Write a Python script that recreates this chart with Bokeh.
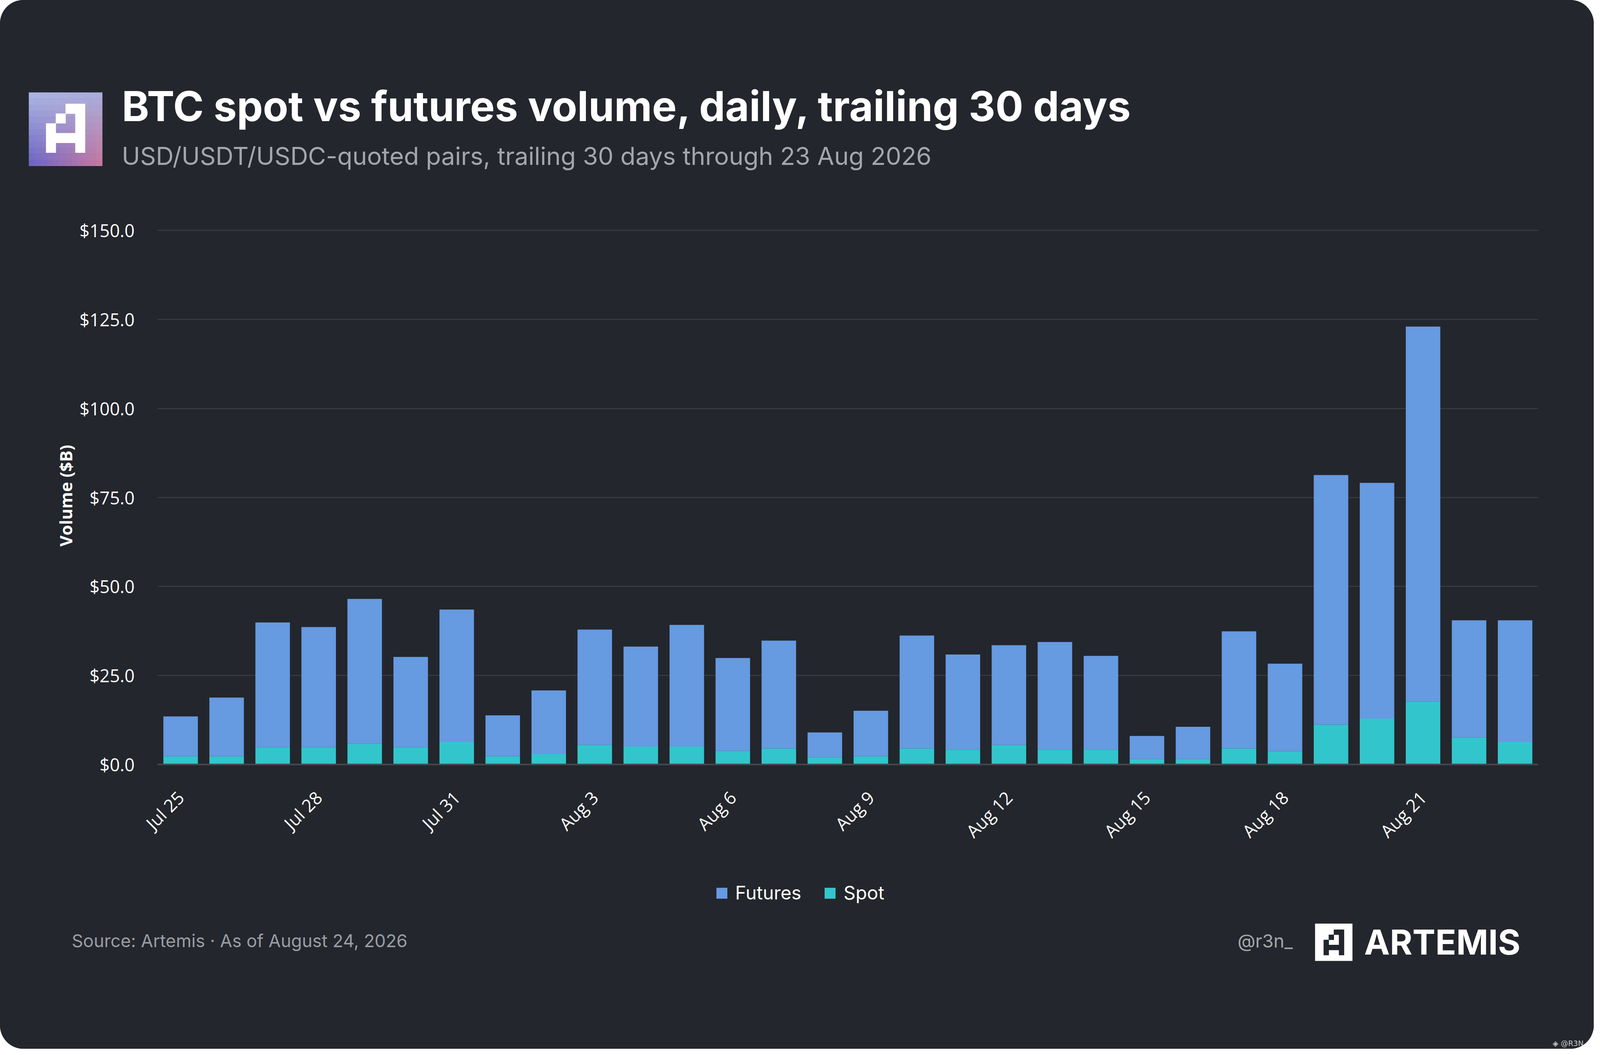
import math
from bokeh.plotting import figure
from bokeh.layouts import column
from bokeh.models import (Range1d, Label, Legend, LegendItem, NumeralTickFormatter,
                          FixedTicker, ColumnDataSource)
from bokeh.embed import file_html
from bokeh.resources import INLINE

# ---------------- data ----------------
dates = ["Jul 25", "Jul 26", "Jul 27", "Jul 28", "Jul 29", "Jul 30", "Jul 31",
         "Aug 1", "Aug 2", "Aug 3", "Aug 4", "Aug 5", "Aug 6", "Aug 7", "Aug 8",
         "Aug 9", "Aug 10", "Aug 11", "Aug 12", "Aug 13", "Aug 14", "Aug 15",
         "Aug 16", "Aug 17", "Aug 18", "Aug 19", "Aug 20", "Aug 21", "Aug 22", "Aug 23"]
spot = [2.3, 2.3, 4.8, 4.8, 5.8, 4.8, 6.3, 2.3, 2.9, 5.5, 5.0, 5.0, 3.8, 4.5, 2.0,
        2.3, 4.5, 4.2, 5.5, 4.2, 4.2, 1.5, 1.5, 4.5, 3.7, 11.2, 12.9, 17.7, 7.6, 6.3]
futures = [11.2, 16.5, 35.1, 33.8, 40.7, 25.4, 37.2, 11.5, 17.9, 32.4, 28.1, 34.2,
           26.1, 30.3, 7.0, 12.8, 31.7, 26.7, 28.0, 30.2, 26.3, 6.5, 9.1, 32.9, 24.6,
           70.1, 66.2, 105.3, 32.9, 34.2]
tick_positions = [0, 3, 6, 9, 12, 15, 18, 21, 24, 27]
tick_labels = ["Jul 25", "Jul 28", "Jul 31", "Aug 3", "Aug 6", "Aug 9", "Aug 12",
               "Aug 15", "Aug 18", "Aug 21"]
y_ticks = [0, 25, 50, 75, 100, 125, 150]

title_text = "BTC spot vs futures volume, daily, trailing 30 days"
subtitle_text = "USD/USDT/USDC-quoted pairs, trailing 30 days through 23 Aug 2026"
source_text = "Source: Artemis \u00b7 As of August 24, 2026"

# ---------------- style ----------------
BG = "#23262c"
FUT = "#669ae1"
SPOT = "#32c6cc"
GRID = "#363940"
W = 4080                 # browser viewport is 4096 css px wide
SX = W / 4784            # horizontal layout scale
FS = 0.87                # font / shape scale
HH, MH, FH = 480, 1720, 484   # header, main, footer heights
Y_TOP = 151              # a little headroom so the $150 grid line shows


def fpx(v):
    return f"{v:.1f}px"


def deco_fig(h):
    f = figure(width=W, height=h, x_range=Range1d(0, W), y_range=Range1d(h, 0),
               x_axis_type=None, y_axis_type=None, min_border=0,
               toolbar_location=None, output_backend="svg", frame_align=False,
               background_fill_color=BG, background_fill_alpha=0,
               border_fill_color=BG, outline_line_color=None,
               styles={"background-color": BG})
    f.title.visible = False
    return f


def lab(f, text, x, y, size, color, font="Inter", style="normal", align="left"):
    f.add_layout(Label(x=x, y=y, text=text, text_font=font, text_font_size=fpx(size),
                       text_color=color, text_font_style=style, text_align=align,
                       text_baseline="middle"))


def hexmix(c1, c2, t):
    a = [int(c1[i:i + 2], 16) for i in (1, 3, 5)]
    b = [int(c2[i:i + 2], 16) for i in (1, 3, 5)]
    return "#" + "".join(f"{round(x + (y - x) * t):02x}" for x, y in zip(a, b))


A_SHAPE = ["..XX", ".X.X", "X..X", "XXXX", "X..X"]


def draw_a(f, cx, cy, u, color):
    ox, oy = cx - 2 * u, cy - 2.5 * u
    L, R, T, B = [], [], [], []
    for r, row in enumerate(A_SHAPE):
        for c, ch_ in enumerate(row):
            if ch_ == "X":
                L.append(ox + c * u)
                R.append(ox + (c + 1) * u + 0.6)
                T.append(oy + r * u)
                B.append(oy + (r + 1) * u + 0.6)
    f.quad(left=L, right=R, top=T, bottom=B, fill_color=color, line_color=None)


# ---------------- header ----------------
hdr = deco_fig(HH)
side = 216 * FS
lcx, lcy = 196 * SX, 330
N = 12
TLc, TRc, BLc, BRc = "#adb7e2", "#a9aedc", "#6862c5", "#c8779c"
gl, gr, gt, gb, gc = [], [], [], [], []
cell = side / N
for i in range(N):
    for j in range(N):
        tx, ty = (i + 0.5) / N, (j + 0.5) / N
        gl.append(lcx - side / 2 + i * cell)
        gr.append(lcx - side / 2 + (i + 1) * cell + 0.6)
        gt.append(lcy - side / 2 + j * cell)
        gb.append(lcy - side / 2 + (j + 1) * cell + 0.6)
        gc.append(hexmix(hexmix(TLc, TRc, tx), hexmix(BLc, BRc, tx), ty))
hdr.quad(left=gl, right=gr, top=gt, bottom=gb, fill_color=gc, line_color=None)
draw_a(hdr, lcx, lcy - 0.1 * 28.7 * FS, 28.7 * FS, "#ffffff")
lab(hdr, title_text, 365 * SX, 271, 106, "#ffffff", style="bold")
lab(hdr, subtitle_text, 365 * SX, 398, 63, "#a3a6ab")

# ---------------- main chart ----------------
FL, FR = round(472 * SX), round(4616 * SX)
KY = (1956 - 589) / 150
FT, FB = round(589 - (Y_TOP - 150) * KY) - HH, 1956 - HH
p = figure(width=W, height=MH, x_range=Range1d(-0.5, len(dates) - 0.5),
           y_range=Range1d(0, Y_TOP), output_backend="svg", toolbar_location=None,
           min_border_left=FL, min_border_right=W - FR, min_border_top=FT,
           min_border_bottom=MH - FB, background_fill_color=BG,
           background_fill_alpha=0, border_fill_color=BG, outline_line_color=None,
           styles={"background-color": BG})
p.title.visible = False

src = ColumnDataSource(dict(x=list(range(len(dates))), date=dates, Spot=spot, Futures=futures))
rs = p.vbar_stack(["Spot", "Futures"], x="x", width=0.75, source=src,
                  fill_color=[SPOT, FUT], line_color=None)

p.xgrid.grid_line_color = None
p.ygrid.grid_line_color = GRID
p.ygrid.grid_line_width = 3
p.ygrid.ticker = FixedTicker(ticks=y_ticks)

ya = p.yaxis[0]
ya.ticker = FixedTicker(ticks=y_ticks)
ya.formatter = NumeralTickFormatter(format="$0.0")
ya.axis_line_color = None
ya.major_tick_line_color = None
ya.minor_tick_line_color = None
ya.major_label_standoff = 53
ya.major_label_text_font = "Open Sans"
ya.major_label_text_font_size = fpx(52 * FS)
ya.major_label_text_color = "#ffffff"
ya.axis_label = "Volume ($B)"
ya.axis_label_text_font = "Open Sans"
ya.axis_label_text_font_style = "bold"
ya.axis_label_text_font_size = fpx(50 * FS)
ya.axis_label_text_color = "#ffffff"
ya.axis_label_standoff = 2

xa = p.xaxis[0]
xa.ticker = FixedTicker(ticks=tick_positions)
xa.major_label_overrides = {t: l for t, l in zip(tick_positions, tick_labels)}
xa.major_label_orientation = math.pi / 4
xa.axis_line_color = "#45484e"
xa.axis_line_width = 4
xa.major_tick_line_color = None
xa.minor_tick_line_color = None
xa.major_label_standoff = 70
xa.major_label_text_font = "Open Sans"
xa.major_label_text_font_size = fpx(52 * FS)
xa.major_label_text_color = "#ffffff"

# ---------------- footer ----------------
ftr = deco_fig(FH)
leg_f = ftr.vbar(x=[-500], top=[-60], bottom=[-50], width=1, fill_color=FUT, line_color=None)
leg_s = ftr.vbar(x=[-500], top=[-60], bottom=[-50], width=1, fill_color=SPOT, line_color=None)
legend = Legend(items=[LegendItem(label="Futures", renderers=[leg_f]),
                       LegendItem(label="Spot", renderers=[leg_s])],
                orientation="horizontal",
                location=(round(2146 * SX), FH - (2284 - 2200) - 30),
                background_fill_alpha=0, border_line_color=None,
                label_text_font="Inter", label_text_font_size=fpx(55 * FS),
                label_text_color="#ffffff", glyph_width=round(40 * FS),
                glyph_height=round(40 * FS), label_standoff=round(20 * SX),
                spacing=round(66 * SX), padding=0, margin=0)
ftr.add_layout(legend, "center")

fy = 2407 - 2200
lab(ftr, source_text, 215 * SX, fy, 52 * FS, "#9a9da3")
lab(ftr, "@r3n_", 3880 * SX, fy, 54 * FS, "#a3a6ab", align="right")
scx, scy, ss = 4003 * SX, 2411 - 2200, 110 * FS
ftr.quad(left=[scx - ss / 2], right=[scx + ss / 2], top=[scy - ss / 2],
         bottom=[scy + ss / 2], fill_color="#ffffff", line_color=None)
draw_a(ftr, scx, scy, 15 * FS, BG)
lab(ftr, "ARTEMIS", scx + ss / 2 + 30, 2410 - 2200, 88, "#ffffff", style="bold")
lab(ftr, "\u25c8 @R3N", 4660 * SX, 2669 - 2200, 19, "#c8c8c8", font="DejaVu Sans")

layout = column(hdr, p, ftr, spacing=0,
                styles={"background-color": BG, "border-radius": "60px",
                        "overflow": "hidden"})
open("out.html", "w").write(file_html(layout, INLINE))
